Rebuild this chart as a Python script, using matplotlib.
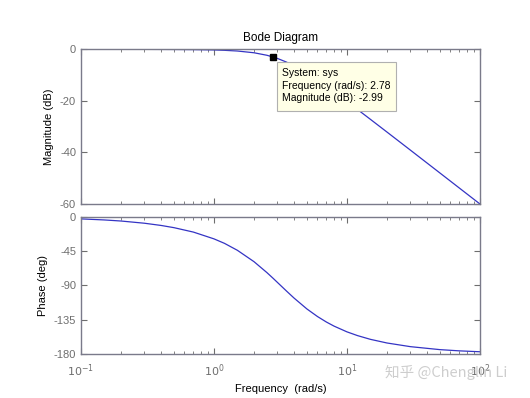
import numpy as np
import matplotlib
matplotlib.use("Agg")
import matplotlib.pyplot as plt
from matplotlib.patches import Rectangle

plt.rcParams['font.family'] = ['Liberation Sans', 'Noto Sans CJK SC', 'DejaVu Sans']

# punkty
freq = [0.1, 0.15, 0.2, 0.3, 0.4, 0.5, 0.7, 1.0, 1.2, 1.5, 2.0, 2.5, 2.78, 3.0, 3.5,
        4.0, 5.0, 6.0, 7.0, 8.0, 10.0, 12.0, 15.0, 20.0, 30.0, 50.0, 70.0, 100.0]
mag_db = [0.0, 0.0, -0.01, -0.02, -0.04, -0.06, -0.12, -0.25, -0.39, -0.66, -1.34, -2.31,
          -2.99, -3.54, -4.93, -6.39, -9.29, -11.98, -14.39, -16.55, -20.25, -23.34,
          -27.15, -32.10, -39.11, -47.97, -53.81, -60.0]
phase_deg = [-2.9, -4.3, -5.7, -8.6, -11.5, -14.4, -20.2, -29.1, -35.0, -44.1, -59.0, -73.3,
             -80.7, -86.2, -97.3, -106.7, -121.0, -130.9, -138.1, -143.5, -151.0, -155.9,
             -160.8, -165.6, -170.4, -174.3, -175.9, -177.1]

mag_ticks = [0, -20, -40, -60]
phase_ticks = [0, -45, -90, -135, -180]
marker_f = 2.78
marker_m = -2.99
tip_lines = ["System: sys", "Frequency (rad/s): 2.78", "Magnitude (dB): -2.99"]

linia = '#3434c4'
szary = '#6e6e6e'

fig = plt.figure(figsize=(5.3, 3.98), dpi=100)
ax1 = fig.add_axes([0.1528, 0.4874, 0.7528, 0.3887])
ax2 = fig.add_axes([0.1528, 0.1106, 0.7528, 0.3450])

for ax in (ax1, ax2):
    ax.set_xscale('log')
    ax.set_xlim(0.1, 100)
    ax.tick_params(which='both', direction='in', top=True, right=True,
                   colors=szary, labelsize=8)
    ax.tick_params(which='major', length=4, width=0.8)
    ax.tick_params(which='minor', length=2.5, width=0.6)
    for s in ax.spines.values():
        s.set_color('#7a7a8a')
        s.set_linewidth(1.0)

ax1.plot(freq, mag_db, color=linia, lw=0.9)
ax1.set_ylim(-60, 0)
ax1.set_yticks(mag_ticks)
ax1.set_yticklabels([str(t) for t in mag_ticks])
ax1.tick_params(axis='x', which='both', labelbottom=False)
ax1.set_ylabel('Magnitude (dB)', fontsize=8, color='black')
ax1.set_title('Bode Diagram', fontsize=8.5, color='black', pad=6)

# znacznik i dymek
ax1.plot([marker_f], [marker_m], 's', color='black', ms=5, zorder=5)
ax1.add_patch(Rectangle((0.491, 0.601), 0.298, 0.317, transform=ax1.transAxes,
                        facecolor='#ffffe6', edgecolor='#b0b0b0', lw=0.8, zorder=6))
ax1.text(0.503, 0.88, "\n".join(tip_lines), transform=ax1.transAxes, fontsize=7.5,
         va='top', ha='left', linespacing=1.35, color='black', zorder=7)

ax2.plot(freq, phase_deg, color=linia, lw=0.9)
ax2.set_ylim(-180, 0)
ax2.set_yticks(phase_ticks)
ax2.set_yticklabels([str(t) for t in phase_ticks])
ax2.set_xticks([0.1, 1, 10, 100])
ax2.set_xticklabels([r'$10^{-1}$', r'$10^{0}$', r'$10^{1}$', r'$10^{2}$'])
ax2.set_ylabel('Phase (deg)', fontsize=8, color='black')
ax2.set_xlabel('Frequency  (rad/s)', fontsize=8, color='black', labelpad=4)
ax2.tick_params(axis='x', pad=6)

fig.text(0.727, 0.053, '知乎 @Chenglin Li', fontsize=10.5, color='#c8c8c8',
         family=['Noto Sans CJK SC', 'DejaVu Sans'], alpha=0.9)

fig.savefig('out.png', dpi=100, facecolor='white')
